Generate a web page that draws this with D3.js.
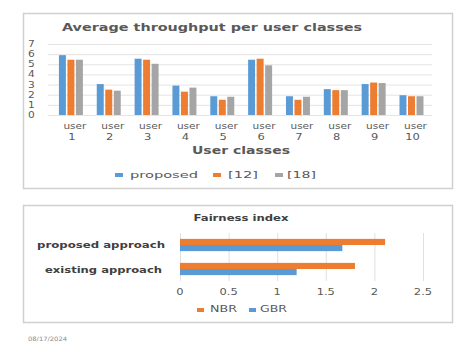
<!DOCTYPE html>
<html><head><meta charset="utf-8">
<script src="https://cdn.jsdelivr.net/npm/d3@7"></script>
<style>body{margin:0;background:#fff}svg{display:block}text{font-family:"DejaVu Sans",sans-serif}</style>
</head><body>
<svg id="c" width="474" height="355"></svg>
<script>
const users = ["user 1","user 2","user 3","user 4","user 5","user 6","user 7","user 8","user 9","user 10"];
const seriesNames = ["proposed","[12]","[18]"];
const proposed = [5.9,3.05,5.55,2.9,1.85,5.45,1.85,2.55,3.05,1.95];
const ref12 = [5.45,2.5,5.45,2.3,1.5,5.55,1.5,2.45,3.2,1.85];
const ref18 = [5.45,2.4,5.05,2.7,1.8,4.9,1.8,2.45,3.15,1.85];
const yTicks = [0,1,2,3,4,5,6,7];
const colors = ["#5B9BD5","#ED7D31","#A5A5A5"];

const approaches = ["proposed approach","existing approach"];
const fairSeries = ["NBR","GBR"];
const nbr = [2.11,1.80];
const gbr = [1.67,1.20];
const xTicks = [0,0.5,1,1.5,2,2.5];
const fairColors = ["#ED7D31","#5B9BD5"];

const svg = d3.select("#c");
const txt = "#595959";

// text helper: stretch horizontally by factor or to a target width
function label(x, y, str, o) {
  const t = svg.append("text").attr("x", x).attr("y", y).text(str)
    .attr("font-size", o.size || 8.5).attr("fill", o.fill || txt)
    .attr("text-anchor", o.anchor || "start");
  if (o.bold) t.attr("font-weight", "bold");
  const natural = t.node().getComputedTextLength();
  const w = o.width || natural * (o.stretch || 1.3);
  t.attr("textLength", w).attr("lengthAdjust", "spacingAndGlyphs");
  return t;
}

// ---- top chart ----
svg.append("rect").attr("x",23.5).attr("y",13.5).attr("width",429).attr("height",175)
  .attr("fill","#fff").attr("stroke","#d0d0d0").attr("stroke-width",1.5);
label(212, 31, "Average throughput per user classes", {size:10.5, bold:true, anchor:"middle", width:300});

const x0 = d3.scaleBand().domain(users).range([52,430.4]).paddingInner(0.366).paddingOuter(0.183);
const x1 = d3.scaleBand().domain(seriesNames).range([0,x0.bandwidth()]).paddingInner(0.18);
const y = d3.scaleLinear().domain([0,7]).range([115,44]);

const yAxis = svg.append("g").attr("transform","translate(48,0)")
  .call(d3.axisLeft(y).tickValues(yTicks).tickSize(-384).tickFormat(""));
yAxis.select(".domain").remove();
yAxis.selectAll("line").attr("stroke","#e4e4e4");
yTicks.forEach(v => label(28, y(v)+3, d3.format("d")(v), {size:8.5, stretch:1.25}));

const topData = [proposed,ref12,ref18];
users.forEach((u,i)=>{
  const g = svg.append("g").attr("transform",`translate(${x0(u)},0)`);
  seriesNames.forEach((s,j)=>{
    g.append("rect").attr("x",x1(s)).attr("width",x1.bandwidth())
      .attr("y",y(topData[j][i])).attr("height",y(0)-y(topData[j][i])).attr("fill",colors[j]);
  });
  const parts = u.split(" ");
  const cx = x0(u)+x0.bandwidth()/2;
  label(cx+4, 128.5, parts[0], {size:8.5, anchor:"middle", width:23});
  label(cx+1, 140, parts[1], {size:8.5, anchor:"middle", stretch:1.35});
});
label(241, 154, "User classes", {size:10, bold:true, anchor:"middle", width:98});

const legRect = [115,213,275];
const legText = [130,228,287];
const legW = [68,30,29];
seriesNames.forEach((s,j)=>{
  svg.append("rect").attr("x",legRect[j]).attr("y",173).attr("width",8).attr("height",4).attr("fill",colors[j]);
  label(legText[j], 177.5, s, {size:8.5, width:legW[j]});
});

// ---- bottom chart ----
svg.append("rect").attr("x",23.5).attr("y",205.5).attr("width",429).attr("height",117)
  .attr("fill","#fff").attr("stroke","#d0d0d0").attr("stroke-width",1.5);
label(241, 221, "Fairness index", {size:8.5, bold:true, anchor:"middle", width:95, fill:"#404040"});

const xs = d3.scaleLinear().domain([0,2.5]).range([180,423]);
const yb = d3.scaleBand().domain(approaches).range([233,281]).paddingInner(0.49).paddingOuter(0.245);
const yb1 = d3.scaleBand().domain(fairSeries).range([0,yb.bandwidth()]);

const xAxis = svg.append("g").attr("transform","translate(0,281)")
  .call(d3.axisBottom(xs).tickValues(xTicks).tickSize(-48).tickFormat(""));
xAxis.select(".domain").remove();
xAxis.selectAll("line").attr("stroke","#e0e0e0");
xTicks.forEach(v => label(xs(v), 295, String(v), {size:8.5, anchor:"middle", stretch:1.35}));

const fairData = [nbr,gbr];
const catW = [128,117];
const catY = [248,272.5];
approaches.forEach((a,i)=>{
  fairSeries.forEach((s,j)=>{
    svg.append("rect").attr("x",xs(0)).attr("y",yb(a)+yb1(s)).attr("height",yb1.bandwidth())
      .attr("width",xs(fairData[j][i])-xs(0)).attr("fill",fairColors[j]);
  });
  label(165 - (i ? 3 : 0), catY[i], a, {size:9.5, bold:true, anchor:"end", width:catW[i], fill:"#404040"});
});
const legRect2 = [197,249];
const legText2 = [210,260];
fairSeries.forEach((s,j)=>{
  svg.append("rect").attr("x",legRect2[j]).attr("y",308).attr("width",7).attr("height",4).attr("fill",fairColors[j]);
  label(legText2[j], 312, s, {size:8.5, width:27});
});

label(28, 341, "08/17/2024", {size:6, width:39, fill:"#8a8a8a"});
</script>
</body></html>
